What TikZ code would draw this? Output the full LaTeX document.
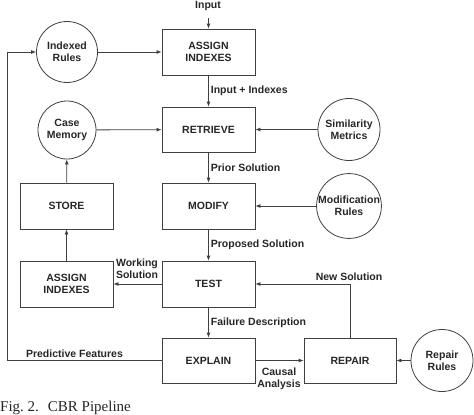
\documentclass[tikz,border=0pt]{standalone}
\usepackage{fontspec}
\setmainfont{Liberation Sans}
\newfontfamily\capfont{Liberation Serif}
\usetikzlibrary{arrows.meta}
\begin{document}
\begin{tikzpicture}[x=1pt,y=-1pt,
  every node/.style={font=\fontsize{10.5}{12}\selectfont\bfseries, text=black!85},
  boxnode/.style={draw=black!75, line width=0.8pt, minimum width=93pt, minimum height=46pt, inner sep=0pt, align=center},
  circnode/.style={draw=black!75, line width=0.8pt, circle, minimum size=#1, inner sep=0pt, align=center},
  lbl/.style={inner sep=1pt, align=center},
  arr/.style={draw=black!75, line width=0.8pt, -{Latex[length=5pt,width=4pt]}},
]
\useasboundingbox (0,0) rectangle (474,415);
% main column
\node[boxnode] (ai1) at (208.5,52) {ASSIGN\\INDEXES};
\node[boxnode, minimum height=45pt] (ret) at (208.5,129.5) {RETRIEVE};
\node[boxnode] (mod) at (208.5,206) {MODIFY};
\node[boxnode] (test) at (208.5,284) {TEST};
\node[boxnode, minimum height=45pt] (expl) at (208.5,360.5) {EXPLAIN};
% left column
\node[boxnode] (store) at (66.5,206) {STORE};
\node[boxnode] (ai2) at (66.5,284) {ASSIGN\\INDEXES};
% repair
\node[boxnode, minimum width=92pt, minimum height=45pt] (rep) at (350,360.5) {REPAIR};
% circles
\node[circnode=61pt] (ir) at (67,52) {Indexed\\Rules};
\node[circnode=58pt] (cm) at (67,130) {Case\\Memory};
\node[circnode=62pt] (sm) at (349,129.5) {Similarity\\Metrics};
\node[circnode=62pt] (mr) at (349,206) {Modification\\Rules};
\node[circnode=62pt] (rr) at (442,360.5) {Repair\\Rules};
% input
\node[lbl] (inp) at (208,6) {Input};
\draw[arr] (208.5,18) -- (ai1.north);
% down arrows
\draw[arr] (ai1) -- (ret) node[midway, right, lbl, xshift=1pt] {Input + Indexes};
\draw[arr] (ret) -- (mod) node[midway, right, lbl, xshift=1pt] {Prior Solution};
\draw[arr] (mod) -- (test) node[midway, right, lbl, xshift=1pt] {Proposed Solution};
\draw[arr] (test) -- (expl) node[midway, right, lbl, xshift=1pt] {Failure Description};
% side inputs
\draw[arr] (ir) -- (ai1);
\draw[arr] (cm) -- (ret);
\draw[arr] (sm) -- (ret);
\draw[arr] (mr) -- (mod);
\draw[arr] (rr) -- (rep);
% left column
\draw[arr] (store) -- (cm);
\draw[arr] (ai2) -- (store);
\draw[arr] (test) -- (ai2);
\node[lbl] (ws) at (137,268.5) {Working\\Solution};
% explain -> repair
\draw[arr] (expl) -- (rep);
\node[lbl] (ca) at (279,378.5) {Causal\\Analysis};
% repair -> test
\draw[arr] (rep.north) -- (350,284) -- (test.east);
\node[lbl] (ns) at (349,277) {New Solution};
% feedback
\draw[arr] (expl.west) -- (7.5,360.5) -- (7.5,52) -- (ir.west);
\node[lbl] (pf) at (74.5,353.5) {Predictive Features};
% caption
\node[anchor=base west, inner sep=0pt, font=\capfont\fontsize{15}{17}\selectfont, text=black!85] (cap) at (0,411) {Fig.~2.\hspace{9pt}CBR Pipeline};
\end{tikzpicture}
\end{document}
